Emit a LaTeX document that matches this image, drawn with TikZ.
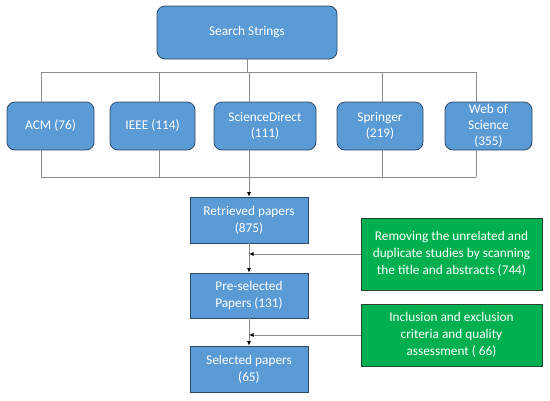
\documentclass[tikz,border=0pt]{standalone}
\usepackage{fontspec}
\setmainfont{Carlito}
\usetikzlibrary{arrows.meta}

\definecolor{boxblue}{HTML}{5B9BD5}
\definecolor{boxblueline}{HTML}{2E4A66}
\definecolor{boxgreen}{HTML}{00B050}
\definecolor{boxgreenline}{HTML}{24452E}
\definecolor{wire}{HTML}{8C8C8C}

\begin{document}
\begin{tikzpicture}[x=1pt, y=-1pt, >={Latex[length=4.5pt,width=4pt,color=black]},
    src/.style={draw=boxblueline, fill=boxblue, rounded corners=8pt, line width=0.8pt,
      text=white, align=center, inner sep=0pt, font=\fontsize{13.3}{16}\selectfont},
    paper/.style={draw=boxblueline, fill=boxblue, line width=0.8pt, minimum width=118pt,
      text=white, align=center, inner sep=0pt, font=\fontsize{13.3}{17}\selectfont},
    filter/.style={draw=boxgreenline, fill=boxgreen, line width=0.8pt, minimum width=181pt,
      text=white, align=center, inner sep=0pt, font=\fontsize{13.3}{17}\selectfont},
    wire/.style={draw=wire, line width=0.8pt}]
      \useasboundingbox (0,0) rectangle (550,400);

      \node[src, minimum width=180pt, minimum height=53pt] (search) at (247,32.5) {Search Strings};

      \node[src, minimum width=87pt, minimum height=48pt] (acm) at (50.5,126) {ACM (76)};
      \node[src, minimum width=85pt, minimum height=48pt] (ieee) at (152.5,126) {IEEE (114)};
      \node[src, minimum width=102pt, minimum height=48pt] (sd) at (265,126) {ScienceDirect\\(111)};
      \node[src, minimum width=86pt, minimum height=48pt] (springer) at (380,126) {Springer\\(219)};
      \node[src, minimum width=87pt, minimum height=48pt] (wos) at (488.5,126) {Web of\\Science\\(355)};

      \node[paper, minimum height=46pt] (retrieved) at (249,220) {Retrieved papers\\(875)};
      \node[paper, minimum height=45pt] (pre) at (249,295.5) {Pre-selected\\Papers (131)};
      \node[paper, minimum height=46pt] (selected) at (249,369) {Selected papers\\(65)};

      \node[filter, minimum height=72pt] (rm) at (451.5,254) {Removing the unrelated and\\duplicate studies by scanning\\the title and abstracts (744)};
      \node[filter, minimum height=62pt] (inc) at (451.5,335) {Inclusion and exclusion\\criteria and quality\\assessment ( 66)};

      % top bar
      \coordinate (t1) at (41,72);
      \coordinate (t2) at (159,72);
      \coordinate (t3) at (249,72);
      \coordinate (t4) at (382,72);
      \coordinate (t5) at (476,72);
      \draw[wire] (search.south) -- (search.south |- t3);
      \draw[wire] (t1) -- (t5);
      \draw[wire] (t1) -- (acm.north -| t1);
      \draw[wire] (t2) -- (ieee.north -| t2);
      \draw[wire] (t3) -- (sd.north -| t3);
      \draw[wire] (t4) -- (springer.north -| t4);
      \draw[wire] (t5) -- (wos.north -| t5);

      % bottom bar
      \coordinate (b1) at (41,177);
      \coordinate (b2) at (159,177);
      \coordinate (b3) at (249,177);
      \coordinate (b4) at (382,177);
      \coordinate (b5) at (476,177);
      \draw[wire] (b1) -- (b5);
      \draw[wire] (acm.south -| b1) -- (b1);
      \draw[wire] (ieee.south -| b2) -- (b2);
      \draw[wire] (sd.south -| b3) -- (b3);
      \draw[wire] (springer.south -| b4) -- (b4);
      \draw[wire] (wos.south -| b5) -- (b5);

      \draw[wire, ->] (b3) -- (retrieved.north);
      \draw[wire, ->] (retrieved.south) -- (pre.north);
      \draw[wire, ->] (pre.south) -- (selected.north);

      \draw[wire, ->] (rm.west) -- (rm.west -| retrieved.south);
      \draw[wire, ->] (inc.west) -- (inc.west -| pre.south);
    \end{tikzpicture}
\end{document}
